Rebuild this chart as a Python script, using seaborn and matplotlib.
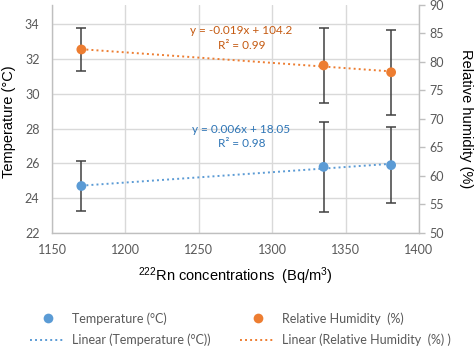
import matplotlib
matplotlib.use("Agg")
import matplotlib.pyplot as plt
from matplotlib.lines import Line2D
import seaborn as sns
import pandas as pd

# ---- data ----
radon = [1170, 1335, 1381]
temperature = [24.7, 25.8, 25.9]
temperature_err = [1.45, 2.6, 2.2]
humidity = [82.2, 79.4, 78.2]
humidity_err = [3.7, 6.6, 7.5]
x_ticks = [1150, 1200, 1250, 1300, 1350, 1400]
left_ticks = [22, 24, 26, 28, 30, 32, 34]
right_ticks = [50, 55, 60, 65, 70, 75, 80, 85, 90]
temp_eq = "y = 0.006x + 18.05\nR² = 0.98"
rh_eq = "y = -0.019x + 104.2\nR² = 0.99"

df = pd.DataFrame({"radon": radon, "temperature": temperature, "humidity": humidity})

sns.set_style("white")
plt.rcParams["font.family"] = ["Lato", "DejaVu Sans"]

BLUE = "#5b9bd5"
ORANGE = "#ed7d31"
GRID = "#d9d9d9"
TICK = "#595959"
ERR = "#404040"

W, H = 474, 353
fig = plt.figure(figsize=(W / 100, H / 100), dpi=100)
ax = fig.add_axes([52 / W, 1 - 233 / H, (419 - 52) / W, (233 - 5) / H])
ax2 = ax.twinx()

# axes ranges
ax.set_xlim(1150, 1400)
ax.set_ylim(22, 35.1)
ax2.set_ylim(50, 90)
ax.set_xticks(x_ticks)
ax.set_yticks(left_ticks)
ax2.set_yticks(right_ticks)

# grid
ax.grid(True, color=GRID, lw=1.0)
ax.set_axisbelow(True)

dot = (0, (1, 1.6))

# temperature (left axis)
ax.errorbar(radon, temperature, yerr=temperature_err, fmt="none", ecolor=ERR,
            elinewidth=1.1, capsize=3.5, capthick=1.1, zorder=3)
sns.regplot(data=df, x="radon", y="temperature", ax=ax, scatter=False, ci=None,
            color=BLUE, line_kws={"ls": dot, "lw": 1.4, "zorder": 2})
sns.scatterplot(data=df, x="radon", y="temperature", ax=ax, color=BLUE, s=50,
                edgecolor="none", zorder=4)

# humidity (right axis)
ax2.errorbar(radon, humidity, yerr=humidity_err, fmt="none", ecolor=ERR,
             elinewidth=1.1, capsize=3.5, capthick=1.1, zorder=3)
sns.regplot(data=df, x="radon", y="humidity", ax=ax2, scatter=False, ci=None,
            color=ORANGE, line_kws={"ls": dot, "lw": 1.4, "zorder": 2})
sns.scatterplot(data=df, x="radon", y="humidity", ax=ax2, color=ORANGE, s=50,
                edgecolor="none", zorder=4)

ax.set_xlabel("")
ax.set_ylabel("")
ax2.set_ylabel("")

# spines and ticks
for a in (ax, ax2):
    a.spines["top"].set_visible(False)
    for s in ("left", "bottom", "right"):
        a.spines[s].set_color("#bfbfbf")
        a.spines[s].set_linewidth(1.0)
ax.spines["right"].set_visible(False)
ax2.spines["left"].set_visible(False)
ax2.spines["bottom"].set_visible(False)

ax.tick_params(axis="x", length=0, pad=8, labelsize=9, labelcolor=TICK)
ax.tick_params(axis="y", length=0, pad=9, labelsize=9, labelcolor=TICK)
ax2.tick_params(axis="y", length=4, width=1, color="#bfbfbf", pad=3.5,
                labelsize=9, labelcolor=TICK)

# trendline equations
ax.text(1279, 33.2, rh_eq, color="#c55a11", fontsize=8.5, ha="center",
        va="center", linespacing=1.35)
ax.text(1279, 27.55, temp_eq, color="#2e75b6", fontsize=8.5, ha="center",
        va="center", linespacing=1.35)

# axis titles
lab_font = ["Liberation Sans", "DejaVu Sans"]
fig.text(235 / W, 1 - 276 / H,
         r"$\mathregular{^{222}}$Rn concentrations  (Bq/m$\mathregular{^{3}}$)",
         fontsize=10.5, family=lab_font, ha="center", va="center", color="black")
fig.text(9 / W, 1 - 122 / H, "Temperature (°C)", fontsize=10.5, family=lab_font,
         rotation=90, ha="center", va="center", color="black")
fig.text(466 / W, 1 - 119 / H, "Relative humidity (%)", fontsize=10.5,
         family=lab_font, rotation=270, ha="center", va="center", color="black")

# legend
h_t = Line2D([], [], marker="o", ls="none", color=BLUE, markersize=7, markeredgewidth=0)
h_tl = Line2D([], [], ls=dot, color=BLUE, lw=1.4)
h_r = Line2D([], [], marker="o", ls="none", color=ORANGE, markersize=7, markeredgewidth=0)
h_rl = Line2D([], [], ls=dot, color=ORANGE, lw=1.4)
leg_kw = dict(frameon=False, fontsize=9, handlelength=2.8, handletextpad=0.55,
              labelspacing=0.75, borderpad=0, borderaxespad=0, loc="upper left",
              labelcolor=TICK)
fig.legend([h_t, h_tl], ["Temperature (°C)", "Linear (Temperature (°C))"],
           bbox_to_anchor=(30 / W, 1 - 312 / H), **leg_kw)
fig.legend([h_r, h_rl], ["Relative Humidity  (%)", "Linear (Relative Humidity  (%) )"],
           bbox_to_anchor=(240 / W, 1 - 312 / H), **leg_kw)

fig.savefig("out.png", dpi=100)
